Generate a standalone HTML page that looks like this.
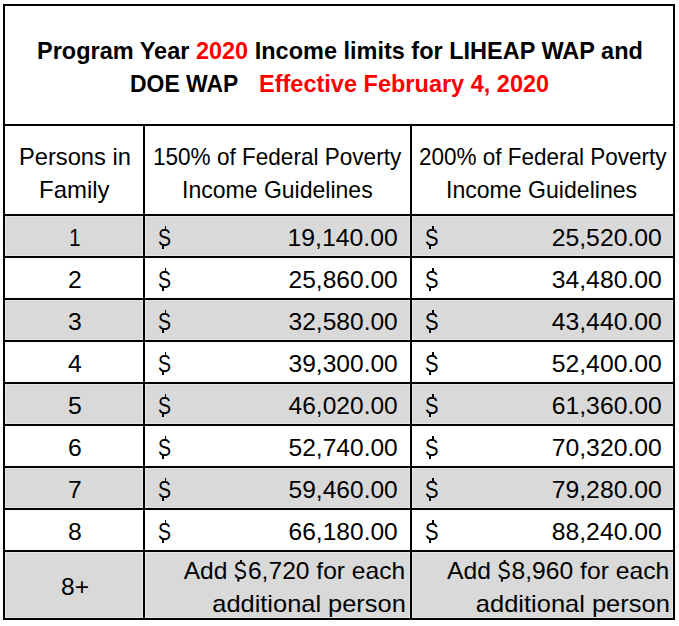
<!DOCTYPE html>
<html><head><meta charset="utf-8"><style>
html,body{margin:0;padding:0;background:#fff;}
body{width:679px;height:626px;position:relative;overflow:hidden;}
.dl{position:relative;color:transparent;}
.dl::before{content:"S";position:absolute;left:-0.3px;top:0;color:#000;transform:scaleX(0.80);transform-origin:0 50%;}
.dl::after{content:"";position:absolute;left:5.7px;top:2.6px;width:1.5px;height:3.4px;background:#000;box-shadow:-2.6px 18.6px 0 0 #000;}
.t{position:absolute;white-space:pre;line-height:28px;font-family:"Liberation Sans",sans-serif;color:#000;}
</style></head><body>
<div style="position:absolute;left:5px;top:216px;width:138px;height:40px;background:#E6E6E6"></div><div style="position:absolute;left:6px;top:217px;width:136px;height:38px;background:#D9D9D9"></div><div style="position:absolute;left:145px;top:216px;width:265px;height:40px;background:#E6E6E6"></div><div style="position:absolute;left:146px;top:217px;width:263px;height:38px;background:#D9D9D9"></div><div style="position:absolute;left:412px;top:216px;width:261px;height:40px;background:#E6E6E6"></div><div style="position:absolute;left:413px;top:217px;width:259px;height:38px;background:#D9D9D9"></div><div style="position:absolute;left:5px;top:300px;width:138px;height:40px;background:#E6E6E6"></div><div style="position:absolute;left:6px;top:301px;width:136px;height:38px;background:#D9D9D9"></div><div style="position:absolute;left:145px;top:300px;width:265px;height:40px;background:#E6E6E6"></div><div style="position:absolute;left:146px;top:301px;width:263px;height:38px;background:#D9D9D9"></div><div style="position:absolute;left:412px;top:300px;width:261px;height:40px;background:#E6E6E6"></div><div style="position:absolute;left:413px;top:301px;width:259px;height:38px;background:#D9D9D9"></div><div style="position:absolute;left:5px;top:384px;width:138px;height:40px;background:#E6E6E6"></div><div style="position:absolute;left:6px;top:385px;width:136px;height:38px;background:#D9D9D9"></div><div style="position:absolute;left:145px;top:384px;width:265px;height:40px;background:#E6E6E6"></div><div style="position:absolute;left:146px;top:385px;width:263px;height:38px;background:#D9D9D9"></div><div style="position:absolute;left:412px;top:384px;width:261px;height:40px;background:#E6E6E6"></div><div style="position:absolute;left:413px;top:385px;width:259px;height:38px;background:#D9D9D9"></div><div style="position:absolute;left:5px;top:468px;width:138px;height:40px;background:#E6E6E6"></div><div style="position:absolute;left:6px;top:469px;width:136px;height:38px;background:#D9D9D9"></div><div style="position:absolute;left:145px;top:468px;width:265px;height:40px;background:#E6E6E6"></div><div style="position:absolute;left:146px;top:469px;width:263px;height:38px;background:#D9D9D9"></div><div style="position:absolute;left:412px;top:468px;width:261px;height:40px;background:#E6E6E6"></div><div style="position:absolute;left:413px;top:469px;width:259px;height:38px;background:#D9D9D9"></div><div style="position:absolute;left:5px;top:552px;width:138px;height:66px;background:#E6E6E6"></div><div style="position:absolute;left:6px;top:553px;width:136px;height:64px;background:#D9D9D9"></div><div style="position:absolute;left:145px;top:552px;width:265px;height:66px;background:#E6E6E6"></div><div style="position:absolute;left:146px;top:553px;width:263px;height:64px;background:#D9D9D9"></div><div style="position:absolute;left:412px;top:552px;width:261px;height:66px;background:#E6E6E6"></div><div style="position:absolute;left:413px;top:553px;width:259px;height:64px;background:#D9D9D9"></div>
<div style="position:absolute;left:3px;top:4px;width:672px;height:2px;background:#000"></div><div style="position:absolute;left:3px;top:618px;width:672px;height:2px;background:#000"></div><div style="position:absolute;left:3px;top:4px;width:2px;height:616px;background:#000"></div><div style="position:absolute;left:673px;top:4px;width:2px;height:616px;background:#000"></div><div style="position:absolute;left:3px;top:124px;width:672px;height:2px;background:#000"></div><div style="position:absolute;left:3px;top:214px;width:672px;height:2px;background:#000"></div><div style="position:absolute;left:3px;top:256px;width:672px;height:2px;background:#000"></div><div style="position:absolute;left:3px;top:298px;width:672px;height:2px;background:#000"></div><div style="position:absolute;left:3px;top:340px;width:672px;height:2px;background:#000"></div><div style="position:absolute;left:3px;top:382px;width:672px;height:2px;background:#000"></div><div style="position:absolute;left:3px;top:424px;width:672px;height:2px;background:#000"></div><div style="position:absolute;left:3px;top:466px;width:672px;height:2px;background:#000"></div><div style="position:absolute;left:3px;top:508px;width:672px;height:2px;background:#000"></div><div style="position:absolute;left:3px;top:550px;width:672px;height:2px;background:#000"></div><div style="position:absolute;left:143px;top:124px;width:2px;height:496px;background:#000"></div><div style="position:absolute;left:410px;top:124px;width:2px;height:496px;background:#000"></div><div style="position:absolute;left:164.90px;top:225.80px;width:1.5px;height:3.4px;background:#000"></div><div style="position:absolute;left:162.30px;top:245.20px;width:1.5px;height:3.6px;background:#000"></div><div style="position:absolute;left:432.00px;top:225.80px;width:1.5px;height:3.4px;background:#000"></div><div style="position:absolute;left:429.40px;top:245.20px;width:1.5px;height:3.6px;background:#000"></div><div style="position:absolute;left:164.90px;top:267.80px;width:1.5px;height:3.4px;background:#000"></div><div style="position:absolute;left:162.30px;top:287.20px;width:1.5px;height:3.6px;background:#000"></div><div style="position:absolute;left:432.00px;top:267.80px;width:1.5px;height:3.4px;background:#000"></div><div style="position:absolute;left:429.40px;top:287.20px;width:1.5px;height:3.6px;background:#000"></div><div style="position:absolute;left:164.90px;top:309.80px;width:1.5px;height:3.4px;background:#000"></div><div style="position:absolute;left:162.30px;top:329.20px;width:1.5px;height:3.6px;background:#000"></div><div style="position:absolute;left:432.00px;top:309.80px;width:1.5px;height:3.4px;background:#000"></div><div style="position:absolute;left:429.40px;top:329.20px;width:1.5px;height:3.6px;background:#000"></div><div style="position:absolute;left:164.90px;top:351.80px;width:1.5px;height:3.4px;background:#000"></div><div style="position:absolute;left:162.30px;top:371.20px;width:1.5px;height:3.6px;background:#000"></div><div style="position:absolute;left:432.00px;top:351.80px;width:1.5px;height:3.4px;background:#000"></div><div style="position:absolute;left:429.40px;top:371.20px;width:1.5px;height:3.6px;background:#000"></div><div style="position:absolute;left:164.90px;top:393.80px;width:1.5px;height:3.4px;background:#000"></div><div style="position:absolute;left:162.30px;top:413.20px;width:1.5px;height:3.6px;background:#000"></div><div style="position:absolute;left:432.00px;top:393.80px;width:1.5px;height:3.4px;background:#000"></div><div style="position:absolute;left:429.40px;top:413.20px;width:1.5px;height:3.6px;background:#000"></div><div style="position:absolute;left:164.90px;top:435.80px;width:1.5px;height:3.4px;background:#000"></div><div style="position:absolute;left:162.30px;top:455.20px;width:1.5px;height:3.6px;background:#000"></div><div style="position:absolute;left:432.00px;top:435.80px;width:1.5px;height:3.4px;background:#000"></div><div style="position:absolute;left:429.40px;top:455.20px;width:1.5px;height:3.6px;background:#000"></div><div style="position:absolute;left:164.90px;top:477.80px;width:1.5px;height:3.4px;background:#000"></div><div style="position:absolute;left:162.30px;top:497.20px;width:1.5px;height:3.6px;background:#000"></div><div style="position:absolute;left:432.00px;top:477.80px;width:1.5px;height:3.4px;background:#000"></div><div style="position:absolute;left:429.40px;top:497.20px;width:1.5px;height:3.6px;background:#000"></div><div style="position:absolute;left:164.90px;top:519.80px;width:1.5px;height:3.4px;background:#000"></div><div style="position:absolute;left:162.30px;top:539.20px;width:1.5px;height:3.6px;background:#000"></div><div style="position:absolute;left:432.00px;top:519.80px;width:1.5px;height:3.4px;background:#000"></div><div style="position:absolute;left:429.40px;top:539.20px;width:1.5px;height:3.6px;background:#000"></div>
<div class="t" style="top:37.00px;font-weight:700;font-size:24px;left:36.99px;transform-origin:0 50%;transform:scaleX(0.9789);">Program Year <span style="color:#FF0000">2020</span> Income limits for LIHEAP WAP and</div><div class="t" style="top:70.00px;font-weight:700;font-size:24px;left:129.99px;transform-origin:0 50%;transform:scaleX(0.9559);">DOE WAP</div><div class="t" style="top:70.00px;font-weight:700;font-size:24px;left:258.99px;transform-origin:0 50%;transform:scaleX(0.9798);"><span style="color:#FF0000">Effective February 4, 2020</span></div><div class="t" style="top:143.00px;font-weight:400;font-size:24px;left:18.74px;transform-origin:0 50%;transform:scaleX(0.9869);">Persons in</div><div class="t" style="top:176.00px;font-weight:400;font-size:24px;left:38.64px;transform-origin:0 50%;transform:scaleX(0.9981);">Family</div><div class="t" style="top:143.00px;font-weight:400;font-size:24px;left:152.98px;transform-origin:0 50%;transform:scaleX(0.9396);">150% of Federal Poverty</div><div class="t" style="top:176.00px;font-weight:400;font-size:24px;left:181.97px;transform-origin:0 50%;transform:scaleX(0.9593);">Income Guidelines</div><div class="t" style="top:143.00px;font-weight:400;font-size:24px;left:418.99px;transform-origin:0 50%;transform:scaleX(0.9373);">200% of Federal Poverty</div><div class="t" style="top:176.00px;font-weight:400;font-size:24px;left:446.36px;transform-origin:0 50%;transform:scaleX(0.9614);">Income Guidelines</div><div class="t" style="top:224.00px;font-weight:400;font-size:24px;left:68.87px;transform-origin:0 50%;transform:scaleX(0.8728);">1</div><div class="t" style="top:224.00px;font-weight:400;font-size:24px;left:157.88px;transform-origin:0 50%;transform:scaleX(0.8145);">S</div><div class="t" style="top:224.00px;font-weight:400;font-size:24px;right:281.17px;transform-origin:100% 50%;transform:scaleX(1.0327);">19,140.00</div><div class="t" style="top:224.00px;font-weight:400;font-size:24px;left:424.95px;transform-origin:0 50%;transform:scaleX(0.8436);">S</div><div class="t" style="top:224.00px;font-weight:400;font-size:24px;right:17.17px;transform-origin:100% 50%;transform:scaleX(1.0305);">25,520.00</div><div class="t" style="top:266.00px;font-weight:400;font-size:24px;left:24.60px;width:100px;text-align:center;transform-origin:50% 50%;transform:scaleX(1.0300);">2</div><div class="t" style="top:266.00px;font-weight:400;font-size:24px;left:157.88px;transform-origin:0 50%;transform:scaleX(0.8145);">S</div><div class="t" style="top:266.00px;font-weight:400;font-size:24px;right:281.18px;transform-origin:100% 50%;transform:scaleX(1.0229);">25,860.00</div><div class="t" style="top:266.00px;font-weight:400;font-size:24px;left:424.95px;transform-origin:0 50%;transform:scaleX(0.8436);">S</div><div class="t" style="top:266.00px;font-weight:400;font-size:24px;right:17.17px;transform-origin:100% 50%;transform:scaleX(1.0305);">34,480.00</div><div class="t" style="top:308.00px;font-weight:400;font-size:24px;left:24.60px;width:100px;text-align:center;transform-origin:50% 50%;transform:scaleX(1.0300);">3</div><div class="t" style="top:308.00px;font-weight:400;font-size:24px;left:157.88px;transform-origin:0 50%;transform:scaleX(0.8145);">S</div><div class="t" style="top:308.00px;font-weight:400;font-size:24px;right:281.18px;transform-origin:100% 50%;transform:scaleX(1.0229);">32,580.00</div><div class="t" style="top:308.00px;font-weight:400;font-size:24px;left:424.95px;transform-origin:0 50%;transform:scaleX(0.8436);">S</div><div class="t" style="top:308.00px;font-weight:400;font-size:24px;right:17.17px;transform-origin:100% 50%;transform:scaleX(1.0305);">43,440.00</div><div class="t" style="top:350.00px;font-weight:400;font-size:24px;left:24.60px;width:100px;text-align:center;transform-origin:50% 50%;transform:scaleX(1.0300);">4</div><div class="t" style="top:350.00px;font-weight:400;font-size:24px;left:157.88px;transform-origin:0 50%;transform:scaleX(0.8145);">S</div><div class="t" style="top:350.00px;font-weight:400;font-size:24px;right:281.18px;transform-origin:100% 50%;transform:scaleX(1.0229);">39,300.00</div><div class="t" style="top:350.00px;font-weight:400;font-size:24px;left:424.95px;transform-origin:0 50%;transform:scaleX(0.8436);">S</div><div class="t" style="top:350.00px;font-weight:400;font-size:24px;right:17.17px;transform-origin:100% 50%;transform:scaleX(1.0305);">52,400.00</div><div class="t" style="top:392.00px;font-weight:400;font-size:24px;left:24.60px;width:100px;text-align:center;transform-origin:50% 50%;transform:scaleX(1.0300);">5</div><div class="t" style="top:392.00px;font-weight:400;font-size:24px;left:157.88px;transform-origin:0 50%;transform:scaleX(0.8145);">S</div><div class="t" style="top:392.00px;font-weight:400;font-size:24px;right:281.18px;transform-origin:100% 50%;transform:scaleX(1.0229);">46,020.00</div><div class="t" style="top:392.00px;font-weight:400;font-size:24px;left:424.95px;transform-origin:0 50%;transform:scaleX(0.8436);">S</div><div class="t" style="top:392.00px;font-weight:400;font-size:24px;right:17.17px;transform-origin:100% 50%;transform:scaleX(1.0305);">61,360.00</div><div class="t" style="top:434.00px;font-weight:400;font-size:24px;left:24.60px;width:100px;text-align:center;transform-origin:50% 50%;transform:scaleX(1.0300);">6</div><div class="t" style="top:434.00px;font-weight:400;font-size:24px;left:157.88px;transform-origin:0 50%;transform:scaleX(0.8145);">S</div><div class="t" style="top:434.00px;font-weight:400;font-size:24px;right:281.18px;transform-origin:100% 50%;transform:scaleX(1.0229);">52,740.00</div><div class="t" style="top:434.00px;font-weight:400;font-size:24px;left:424.95px;transform-origin:0 50%;transform:scaleX(0.8436);">S</div><div class="t" style="top:434.00px;font-weight:400;font-size:24px;right:17.17px;transform-origin:100% 50%;transform:scaleX(1.0305);">70,320.00</div><div class="t" style="top:476.00px;font-weight:400;font-size:24px;left:24.60px;width:100px;text-align:center;transform-origin:50% 50%;transform:scaleX(1.0300);">7</div><div class="t" style="top:476.00px;font-weight:400;font-size:24px;left:157.88px;transform-origin:0 50%;transform:scaleX(0.8145);">S</div><div class="t" style="top:476.00px;font-weight:400;font-size:24px;right:281.18px;transform-origin:100% 50%;transform:scaleX(1.0229);">59,460.00</div><div class="t" style="top:476.00px;font-weight:400;font-size:24px;left:424.95px;transform-origin:0 50%;transform:scaleX(0.8436);">S</div><div class="t" style="top:476.00px;font-weight:400;font-size:24px;right:17.17px;transform-origin:100% 50%;transform:scaleX(1.0305);">79,280.00</div><div class="t" style="top:518.00px;font-weight:400;font-size:24px;left:24.60px;width:100px;text-align:center;transform-origin:50% 50%;transform:scaleX(1.0300);">8</div><div class="t" style="top:518.00px;font-weight:400;font-size:24px;left:157.88px;transform-origin:0 50%;transform:scaleX(0.8145);">S</div><div class="t" style="top:518.00px;font-weight:400;font-size:24px;right:281.18px;transform-origin:100% 50%;transform:scaleX(1.0229);">66,180.00</div><div class="t" style="top:518.00px;font-weight:400;font-size:24px;left:424.95px;transform-origin:0 50%;transform:scaleX(0.8436);">S</div><div class="t" style="top:518.00px;font-weight:400;font-size:24px;right:17.17px;transform-origin:100% 50%;transform:scaleX(1.0305);">88,240.00</div><div class="t" style="top:573.00px;font-weight:400;font-size:24px;left:61.01px;transform-origin:0 50%;transform:scaleX(1.0241);">8+</div><div class="t" style="top:557.00px;font-weight:400;font-size:24px;right:274.00px;transform-origin:100% 50%;transform:scaleX(1.0247);">Add <span class="dl">$</span>6,720 for each</div><div class="t" style="top:590.00px;font-weight:400;font-size:24px;right:272.98px;transform-origin:100% 50%;transform:scaleX(1.0588);">additional person</div><div class="t" style="top:557.00px;font-weight:400;font-size:24px;right:9.79px;transform-origin:100% 50%;transform:scaleX(1.0275);">Add <span class="dl">$</span>8,960 for each</div><div class="t" style="top:590.00px;font-weight:400;font-size:24px;right:8.79px;transform-origin:100% 50%;transform:scaleX(1.0610);">additional person</div>
</body></html>
